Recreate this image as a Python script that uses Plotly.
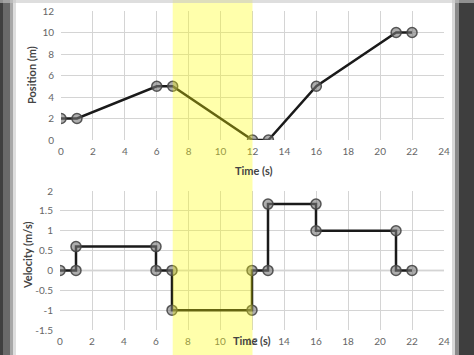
import plotly.graph_objects as go

# Data
time_pos = [0, 1, 6, 7, 12, 13, 16, 21, 22]
position = [2, 2, 5, 5, 0, 0, 5, 10, 10]

time_vel = [0, 1, 1, 6, 6, 7, 7, 12, 12, 13, 13, 16, 16, 21, 21, 22]
velocity = [0, 0, 0.6, 0.6, 0, 0, -1, -1, 0, 0, 1.67, 1.67, 1, 1, 0, 0]

x_ticks = [0, 2, 4, 6, 8, 10, 12, 14, 16, 18, 20, 22, 24]
pos_ticks = [0, 2, 4, 6, 8, 10, 12]
vel_ticks = [-1.5, -1, -0.5, 0, 0.5, 1, 1.5, 2]
band = [7, 12]

FONT = "Lato"
marker = dict(size=10, color="rgba(120,120,120,0.6)", line=dict(color="rgba(70,70,70,0.9)", width=1.5))
line = dict(color="#1a1a1a", width=2.5)

fig = go.Figure()
fig.add_trace(go.Scatter(x=time_pos, y=position, mode="lines+markers", line=line, marker=marker,
                         xaxis="x", yaxis="y", showlegend=False))
fig.add_trace(go.Scatter(x=time_vel, y=velocity, mode="lines+markers", line=line, marker=marker,
                         xaxis="x2", yaxis="y2", showlegend=False))

W, H = 474, 355
def px(x): return x / W
def py(y): return 1 - y / H

axis_common = dict(showgrid=True, gridcolor="#d4d4d4", gridwidth=1, zeroline=False,
                   tickfont=dict(family=FONT, size=10, color="#666666"),
                   showline=False, ticks="", automargin=False)

fig.update_layout(
    width=W, height=H, margin=dict(l=0, r=0, t=0, b=0, autoexpand=False),
    paper_bgcolor="white", plot_bgcolor="white",
    font=dict(family=FONT),
    xaxis=dict(domain=[px(61), px(444)], range=[0, 24], tickvals=x_ticks, anchor="y", **axis_common),
    yaxis=dict(domain=[py(140), py(11)], range=[0, 12], tickvals=pos_ticks, anchor="x", **axis_common),
    xaxis2=dict(domain=[px(60), px(444)], range=[0, 24], tickvals=x_ticks, anchor="y2", **axis_common),
    yaxis2=dict(domain=[py(330), py(191)], range=[-1.5, 2], tickvals=vel_ticks,
                ticktext=[str(v) for v in vel_ticks], anchor="x2", **axis_common),
)
fig.update_yaxes(ticklabelstandoff=6)
fig.update_xaxes(ticklabelstandoff=4)

# zero line in velocity plot slightly darker
fig.add_shape(type="line", xref="x2", yref="y2", x0=0, x1=24, y0=0, y1=0,
              line=dict(color="#bdbdbd", width=1.5), layer="below")

title_font = dict(family=FONT, size=11, color="#444444")
# Axis titles
fig.add_annotation(text="<b>Position (m)</b>", x=px(32), y=py(75), xref="paper", yref="paper",
                   xanchor="center", yanchor="middle", textangle=-90, showarrow=False, font=title_font)
fig.add_annotation(text="<b>Velocity (m/s)</b>", x=px(27), y=py(255), xref="paper", yref="paper",
                   xanchor="center", yanchor="middle", textangle=-90, showarrow=False, font=title_font)
fig.add_annotation(text="<b>Time (s)</b>", x=px(254), y=py(170), xref="paper", yref="paper",
                   xanchor="center", yanchor="middle", showarrow=False, font=title_font)
fig.add_annotation(text="<b>Time (s)</b>", x=px(252), y=py(340), xref="paper", yref="paper",
                   xanchor="center", yanchor="middle", showarrow=False, font=title_font)

# Highlight band over whole height
fig.add_shape(type="rect", xref="x", yref="paper", x0=band[0], x1=band[1], y0=0, y1=1,
              fillcolor="rgba(255,255,0,0.33)", line=dict(width=0), layer="above")

# Screen edges (video frame)
fig.add_shape(type="rect", xref="paper", yref="paper", x0=0, x1=px(3), y0=0, y1=1,
              fillcolor="#404040", line=dict(width=0), layer="above")
fig.add_shape(type="rect", xref="paper", yref="paper", x0=px(3), x1=px(10), y0=0, y1=1,
              fillcolor="#6a6a6a", line=dict(width=0), layer="above")
fig.add_shape(type="rect", xref="paper", yref="paper", x0=px(10), x1=px(13), y0=0, y1=1,
              fillcolor="#a8a8a8", line=dict(width=0), layer="above")
fig.add_shape(type="rect", xref="paper", yref="paper", x0=px(13), x1=px(16), y0=0, y1=1,
              fillcolor="#dedede", line=dict(width=0), layer="above")
fig.add_shape(type="rect", xref="paper", yref="paper", x0=px(452), x1=px(455), y0=0, y1=1,
              fillcolor="#d8d8d8", line=dict(width=0), layer="above")
fig.add_shape(type="rect", xref="paper", yref="paper", x0=px(455), x1=px(459), y0=0, y1=1,
              fillcolor="#8a8a8a", line=dict(width=0), layer="above")
fig.add_shape(type="rect", xref="paper", yref="paper", x0=px(459), x1=1, y0=0, y1=1,
              fillcolor="#3e3e3e", line=dict(width=0), layer="above")
fig.add_shape(type="rect", xref="paper", yref="paper", x0=0, x1=1, y0=py(3), y1=1,
              fillcolor="rgba(200,200,200,0.6)", line=dict(width=0), layer="above")

fig.write_html("out.html")
